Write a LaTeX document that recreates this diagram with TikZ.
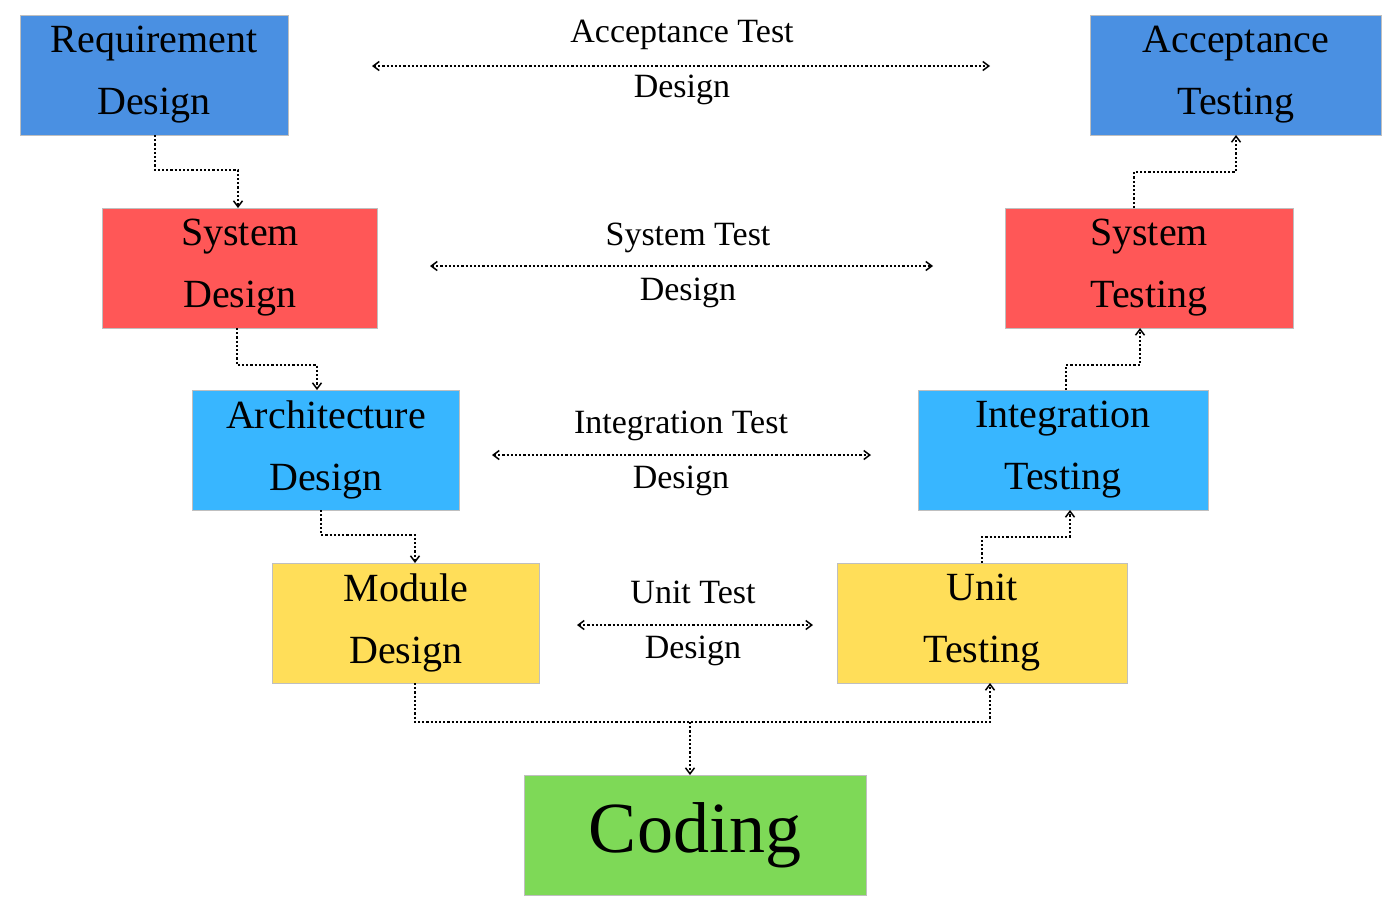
\documentclass[tikz,border=0pt]{standalone}
\usepackage{fontspec}
\setmainfont{Liberation Serif}
\usetikzlibrary{arrows.meta}
\definecolor{cblue}{HTML}{4A90E2}
\definecolor{cred}{HTML}{FF5757}
\definecolor{clblue}{HTML}{38B6FF}
\definecolor{cyel}{HTML}{FFDE59}
\definecolor{cgreen}{HTML}{7ED957}
\begin{document}
\begin{tikzpicture}[x=1pt,y=-1pt,
 box/.style={draw=black!25,line width=0.6pt,minimum width=#1,minimum height=120,align=center,inner sep=0,font=\fontsize{40}{62}\selectfont},
 dl/.style={line width=2.2pt,dotted,-{Straight Barb[length=6pt,width=9pt,line width=1.5pt]}},
 dd/.style={line width=2.2pt,dotted,{Straight Barb[length=6pt,width=9pt,line width=1.5pt]}-{Straight Barb[length=6pt,width=9pt,line width=1.5pt]}},
 lab/.style={align=center,font=\fontsize{34}{55}\selectfont,inner sep=0}]
\useasboundingbox (0,0) rectangle (1400,903);
\node[box=268,fill=cblue] (rd) at (154,75) {Requirement\\Design};
\node[box=275,fill=cred] (sd) at (240,268) {System\\Design};
\node[box=267,fill=clblue] (ad) at (326,450) {Architecture\\Design};
\node[box=267,fill=cyel] (md) at (406,623) {Module\\Design};
\node[box=342,fill=cgreen,font=\fontsize{72}{80}\selectfont] (co) at (695,835) {Coding};
\node[box=290,fill=cyel] (ut) at (982,623) {Unit\\Testing};
\node[box=290,fill=clblue] (it) at (1063,450) {Integration\\Testing};
\node[box=288,fill=cred] (st) at (1149,268) {System\\Testing};
\node[box=291,fill=cblue] (at) at (1236,75) {Acceptance\\Testing};
% left side
\coordinate (a1) at (155,135); \coordinate (a2) at (238,208);
\draw[dl] (a1) |- (238,170) -- (a2);
\coordinate (b1) at (237,328); \coordinate (b2) at (317,390);
\draw[dl] (b1) |- (317,365) -- (b2);
\coordinate (c1) at (321,510); \coordinate (c2) at (415,563);
\draw[dl] (c1) |- (415,535) -- (c2);
\coordinate (d1) at (415,683); \coordinate (d2) at (990,683);
\coordinate (cm) at (690,722); \coordinate (ct) at (690,775);
\draw[dl] (d1) |- (990,722) -- (d2);
\draw[dl] (cm) -- (ct);
% right side
\coordinate (e1) at (982,563); \coordinate (e2) at (1070,510);
\draw[dl] (e1) |- (1070,537) -- (e2);
\coordinate (f1) at (1066,390); \coordinate (f2) at (1140,328);
\draw[dl] (f1) |- (1140,365) -- (f2);
\coordinate (g1) at (1134,208); \coordinate (g2) at (1236,135);
\draw[dl] (g1) |- (1236,172) -- (g2);
% horizontal
\coordinate (h1) at (372,66); \coordinate (h2) at (990,66);
\draw[dd] (h1) -- (h2);
\node[lab] (l1) at (682,62) {Acceptance Test\\Design};
\coordinate (i1) at (430,266); \coordinate (i2) at (933,266);
\draw[dd] (i1) -- (i2);
\node[lab] (l2) at (688,265) {System Test\\Design};
\coordinate (j1) at (492,455); \coordinate (j2) at (871,455);
\draw[dd] (j1) -- (j2);
\node[lab] (l3) at (681,453) {Integration Test\\Design};
\coordinate (k1) at (577,625); \coordinate (k2) at (813,625);
\draw[dd] (k1) -- (k2);
\node[lab] (l4) at (693,623) {Unit Test\\Design};
\end{tikzpicture}
\end{document}
